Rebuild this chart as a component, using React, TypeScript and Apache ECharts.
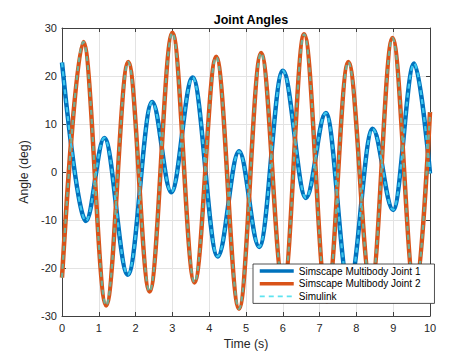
import React, { useEffect, useRef } from "react";
import * as echarts from "echarts";

// Joint 1 (Simscape Multibody) – extrema
const joint1Time = [0, 0.65, 1.15, 1.79, 2.45, 2.97, 3.55, 4.23, 4.81, 5.36, 6.0, 6.63, 7.17, 7.8, 8.44, 9.0, 9.57, 10];
const joint1Angle = [22.8, -10.2, 7.1, -21.4, 14.6, -4.2, 19.7, -17.6, 4.3, -15.6, 21.1, -5.4, 12.3, -24.0, 9.0, -7.9, 22.6, -0.3];

// Joint 2 (Simscape Multibody)
const joint2Time = [0, 0.58, 1.2, 1.8, 2.38, 3.0, 3.6, 4.19, 4.81, 5.41, 6.02, 6.58, 7.2, 7.78, 8.4, 8.98, 9.6, 10];
const joint2Angle = [-22.0, 27.1, -27.8, 22.9, -24.9, 29.0, -23.0, 24.0, -28.5, 24.8, -24.0, 28.7, -27.0, 22.9, -24.0, 27.9, -25.5, 12.5];

// Simulink results (overlay the Simscape results)
const simulinkJoint1Angle = joint1Angle;
const simulinkJoint2Angle = joint2Angle;

const xTicks = [0, 1, 2, 3, 4, 5, 6, 7, 8, 9, 10];
const yTicks = [-30, -20, -10, 0, 10, 20, 30];

const FONT = "'Liberation Sans', Arial, Helvetica, sans-serif";
const AXIS_COLOR = "#404040";
const GRID_COLOR = "#e3e3e3";

export default function App() {
  const ref = useRef<HTMLDivElement>(null);
  useEffect(() => {
    if (!ref.current) return;
    const chart = echarts.init(ref.current, null, { renderer: "svg" });
    const pairs = (t: number[], v: number[]) => t.map((x, i) => [x, v[i]]);
    const common = {
      type: "line" as const,
      symbol: "none",
      showSymbol: false,
      smooth: 0.36,
      smoothMonotone: "x",
      animation: false,
      emphasis: { disabled: true },
    };
    const xMin = xTicks[0];
    const xMax = xTicks[xTicks.length - 1];
    const yMin = yTicks[0];
    const yMax = yTicks[yTicks.length - 1];
    const axisBase = {
      type: "value" as const,
      interval: 1,
      axisLine: { show: true, onZero: false, lineStyle: { color: AXIS_COLOR, width: 1 } },
      axisTick: { show: true, inside: true, length: 4, lineStyle: { color: AXIS_COLOR } },
    };
    chart.setOption({
      animation: false,
      backgroundColor: "#ffffff",
      textStyle: { fontFamily: FONT },
      title: {
        text: "Joint Angles",
        left: 246,
        textAlign: "center",
        top: 8,
        textStyle: { fontFamily: FONT, fontSize: 12.5, fontWeight: "bold", color: "#000" },
      },
      grid: { left: 62, top: 28, width: 368, height: 288 },
      legend: {
        left: 253,
        top: 264,
        orient: "vertical",
        itemWidth: 34,
        itemHeight: 12,
        itemGap: 2.7,
        padding: [2, 14, 2, 5],
        backgroundColor: "#ffffff",
        borderColor: "#262626",
        borderWidth: 0.8,
        itemStyle: { color: "rgba(0,0,0,0)", borderWidth: 0, opacity: 0 },
        textStyle: { fontFamily: FONT, fontSize: 10, color: "#000" },
        data: [
          { name: "Simscape Multibody Joint 1", lineStyle: { width: 3.5 } },
          { name: "Simscape Multibody Joint 2", lineStyle: { width: 3.5 } },
          { name: "Simulink", lineStyle: { color: "#5EE3F0", width: 1.6 } },
        ],
      },
      xAxis: [
        {
          ...axisBase,
          min: xMin,
          max: xMax,
          position: "bottom",
          name: "Time (s)",
          nameLocation: "middle",
          nameGap: 22,
          nameTextStyle: { fontFamily: FONT, fontSize: 12.3, color: "#262626" },
          axisLabel: { color: "#262626", fontSize: 11, margin: 6, fontFamily: FONT },
          splitLine: { show: true, lineStyle: { color: GRID_COLOR, width: 1 } },
        },
        {
          ...axisBase,
          min: xMin,
          max: xMax,
          position: "top",
          axisLabel: { show: false },
          splitLine: { show: false },
        },
      ],
      yAxis: [
        {
          ...axisBase,
          interval: 10,
          min: yMin,
          max: yMax,
          position: "left",
          name: "Angle (deg)",
          nameLocation: "middle",
          nameGap: 26,
          nameTextStyle: { fontFamily: FONT, fontSize: 12.3, color: "#262626" },
          axisLabel: { color: "#262626", fontSize: 11, margin: 5, fontFamily: FONT },
          splitLine: { show: true, lineStyle: { color: GRID_COLOR, width: 1 } },
        },
        {
          ...axisBase,
          interval: 10,
          min: yMin,
          max: yMax,
          position: "right",
          axisLabel: { show: false },
          splitLine: { show: false },
        },
      ],
      series: [
        {
          ...common,
          name: "Simscape Multibody Joint 1",
          data: pairs(joint1Time, joint1Angle),
          lineStyle: { color: "#0072BD", width: 4.5 },
          itemStyle: { color: "#0072BD" },
        },
        {
          ...common,
          name: "Simscape Multibody Joint 2",
          data: pairs(joint2Time, joint2Angle),
          lineStyle: { color: "#D95319", width: 4.5 },
          itemStyle: { color: "#D95319" },
        },
        {
          ...common,
          name: "Simulink",
          data: pairs(joint1Time, simulinkJoint1Angle),
          lineStyle: { color: "#3CC6EE", width: 2.2, type: [5, 4] },
          itemStyle: { color: "#3CC6EE" },
        },
        {
          ...common,
          name: "Simulink",
          data: pairs(joint2Time, simulinkJoint2Angle),
          lineStyle: { color: "#72AE96", width: 2.2, type: [5, 4] },
          itemStyle: { color: "#72AE96" },
        },
      ],
    });
    return () => chart.dispose();
  }, []);
  return (
    <div
      ref={ref}
      style={{ position: "fixed", left: 0, top: 0, width: 474, height: 355 }}
    />
  );
}
